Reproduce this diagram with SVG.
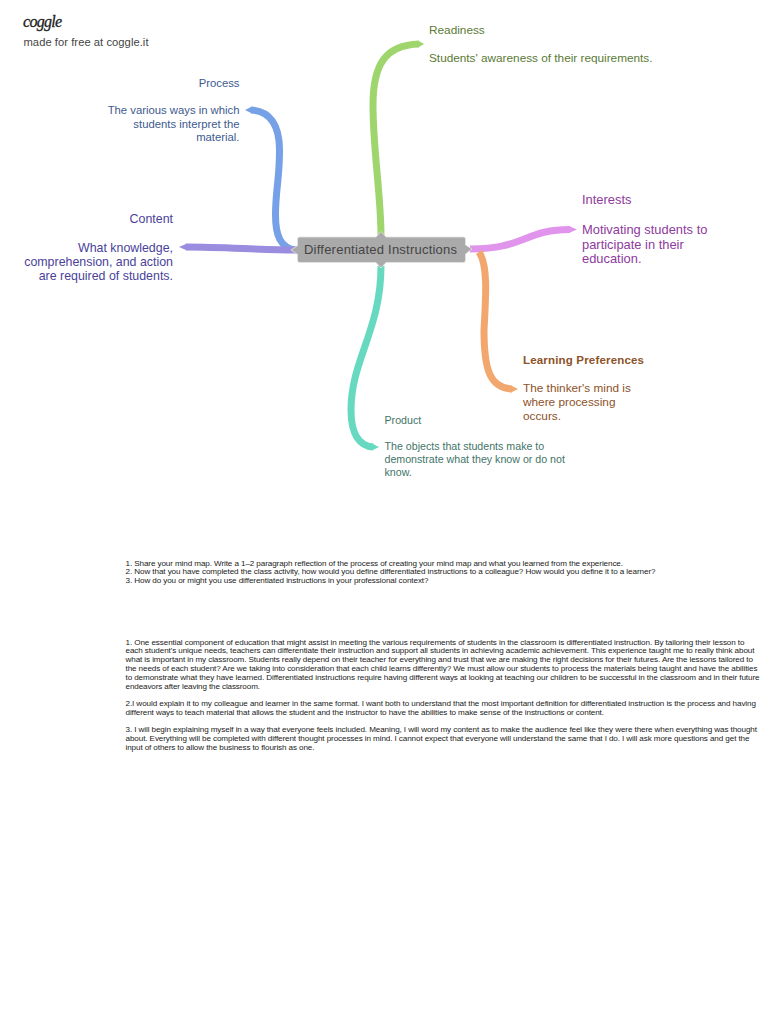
<svg xmlns="http://www.w3.org/2000/svg" width="768" height="1010" viewBox="0 0 768 1010">
<style>
text{font-family:"Liberation Sans",Arial,sans-serif}
.br{fill:none;stroke-width:7;stroke-linecap:butt}
.s{font-size:8.1px;fill:#222}
.r{text-anchor:end}
.m{font-size:12.4px}
.l{font-size:12.9px}
.d{font-size:11.8px}
.p{font-size:11.3px}
</style>
<rect width="768" height="1010" fill="#fff"/>
<g id="connectors">
<path class="br" stroke="#9ed56c" d="M381 236C381 195 373 150 373 105C373 65 385 45 419 44"/>
<path d="M418 40.500L424 44L418 47.500Z" fill="#9ed56c"/>
<path class="br" stroke="#76a1e6" d="M296 250C280 248 275.500 235 275.500 215C275.500 190 279.500 180 279.500 150C279.500 125 270 111 251 110"/>
<path d="M252 106.500L245 110L252 113.500Z" fill="#76a1e6"/>
<path class="br" stroke="#9a8de0" d="M296 250C260 250 225 247 186 247"/>
<path d="M187 243.500L179 247L187 250.500Z" fill="#9a8de0"/>
<path class="br" stroke="#e194ec" d="M470 249C525 249 525 229.500 570 229.500"/>
<path d="M569 226L577 229.500L569 233Z" fill="#e194ec"/>
<path class="br" stroke="#f2a76f" d="M479 252C488 265 486 295 484 330C484 370 490 388 512 389"/>
<path d="M511 385.500L518 389L511 392.500Z" fill="#f2a76f"/>
<path class="br" stroke="#66d9c0" d="M381 266C381 330 351 360 351 410C351 435 360 446 373 447"/>
<path d="M372 443.500L379 447L372 450.500Z" fill="#66d9c0"/>
</g>
<g id="logo">
<text x="23" y="27" font-size="16" font-style="italic" style='font-family:"Liberation Serif",serif' fill="#222" stroke="#222" stroke-width="0.3" textLength="39">coggle</text>
<text x="23.500" y="46" font-size="11.200" fill="#444" textLength="125">made for free at coggle.it</text>
</g>
<g id="center">
<path d="M299.500 237H376L381 231.500L386 237H463.500Q465.500 237 465.500 239V245L472 249L465.500 254V260Q465.500 262.500 463.500 262.500H386L381 268L376 262.500H299.500Q297.500 262.500 297.500 260V254.500L291 250L297.500 245.500V239Q297.500 237 299.500 237Z" fill="#aaa" stroke="#e4e4e4" stroke-width="0.8"/>
<text x="304" y="253.500" font-size="13" fill="#444" textLength="153">Differentiated Instructions</text>
</g>
<g id="readiness" fill="#5a7a35">
<text class="d" x="429" y="34">Readiness</text>
<text class="d" x="429" y="62" textLength="223.500">Students' awareness of their requirements.</text>
</g>
<g id="process" fill="#3d5a8f">
<text class="p r" x="239.500" y="87">Process</text>
<text class="p r" x="239.500" y="114">The various ways in which</text>
<text class="p r" x="239.500" y="127.500">students interpret the</text>
<text class="p r" x="239.500" y="141">material.</text>
</g>
<g id="content" fill="#4a3f9a">
<text class="m r" x="173" y="223">Content</text>
<text class="m r" x="173" y="251.500">What knowledge,</text>
<text class="m r" x="173" y="265.500">comprehension, and action</text>
<text class="m r" x="173" y="279.500">are required of students.</text>
</g>
<g id="interests" fill="#8e3a9e">
<text class="l" x="582" y="204">Interests</text>
<text class="l" x="582" y="234">Motivating students to</text>
<text class="l" x="582" y="248.500">participate in their</text>
<text class="l" x="582" y="262.500">education.</text>
</g>
<g id="learning" fill="#8c5228">
<text x="523" y="364" font-weight="bold" font-size="11.500" textLength="121">Learning Preferences</text>
<text class="d" x="523" y="391.500">The thinker's mind is</text>
<text class="d" x="523" y="405.500">where processing</text>
<text class="d" x="523" y="419.500">occurs.</text>
</g>
<g id="product" fill="#3f7568">
<text x="384.500" y="424" font-size="10.650">Product</text>
<text x="384.500" y="450" font-size="10.650">The objects that students make to</text>
<text x="384.500" y="463" font-size="10.650">demonstrate what they know or do not</text>
<text x="384.500" y="476" font-size="10.650">know.</text>
</g>
<g id="body">
<text class="s" x="125.500" y="566" textLength="497.500">1. Share your mind map. Write a 1–2 paragraph reflection of the process of creating your mind map and what you learned from the experience.</text>
<text class="s" x="125.500" y="574" textLength="530">2. Now that you have completed the class activity, how would you define differentiated instructions to a colleague? How would you define it to a learner?</text>
<text class="s" x="125.500" y="583" textLength="303">3. How do you or might you use differentiated instructions in your professional context?</text>
<text class="s" x="125.500" y="645" textLength="619">1. One essential component of education that might assist in meeting the various requirements of students in the classroom is differentiated instruction. By tailoring their lesson to</text>
<text class="s" x="125.500" y="653" textLength="629">each student's unique needs, teachers can differentiate their instruction and support all students in achieving academic achievement. This experience taught me to really think about</text>
<text class="s" x="125.500" y="662" textLength="627.500">what is important in my classroom. Students really depend on their teacher for everything and trust that we are making the right decisions for their futures. Are the lessons tailored to</text>
<text class="s" x="125.500" y="671" textLength="632">the needs of each student? Are we taking into consideration that each child learns differently? We must allow our students to process the materials being taught and have the abilities</text>
<text class="s" x="125.500" y="680" textLength="634">to demonstrate what they have learned. Differentiated instructions require having different ways at looking at teaching our children to be successful in the classroom and in their future</text>
<text class="s" x="125.500" y="689" textLength="134.500">endeavors after leaving the classroom.</text>
<text class="s" x="125.500" y="706" textLength="630.500">2.I would explain it to my colleague and learner in the same format. I want both to understand that the most important definition for differentiated instruction is the process and having</text>
<text class="s" x="125.500" y="714.500" textLength="478.500">different ways to teach material that allows the student and the instructor to have the abilities to make sense of the instructions or content.</text>
<text class="s" x="125.500" y="732" textLength="631.500">3. I will begin explaining myself in a way that everyone feels included. Meaning, I will word my content as to make the audience feel like they were there when everything was thought</text>
<text class="s" x="125.500" y="741" textLength="624">about. Everything will be completed with different thought processes in mind. I cannot expect that everyone will understand the same that I do. I will ask more questions and get the</text>
<text class="s" x="125.500" y="750" textLength="189">input of others to allow the business to flourish as one.</text>
</g>
</svg>
